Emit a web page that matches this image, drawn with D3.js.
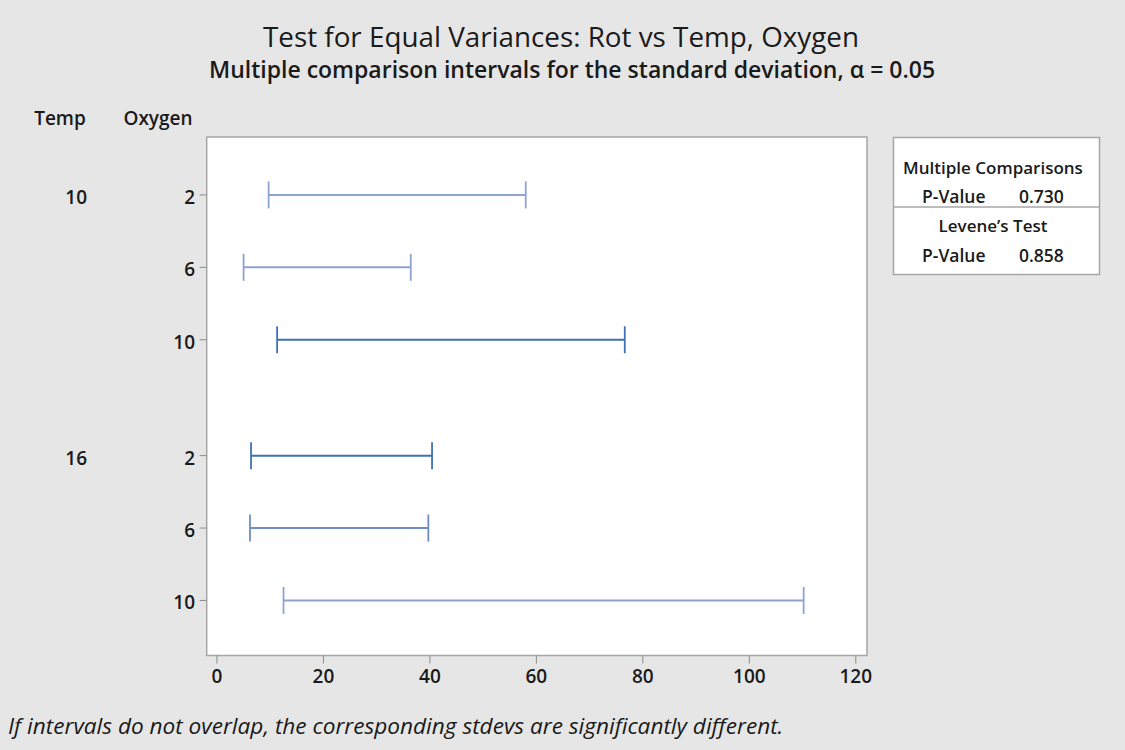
<!DOCTYPE html>
<html>
<head>
<meta charset="utf-8">
<script src="https://cdn.jsdelivr.net/npm/d3@7"></script>
<style>
  body { margin: 0; background: #e6e6e6; }
  svg { display: block; font-family: "Open Sans", "Noto Sans", sans-serif; }
</style>
</head>
<body>
<div id="chart"></div>
<script>
// Data
var temps = ['10', '10', '10', '16', '16', '16'];
var oxygens = ['2', '6', '10', '2', '6', '10'];
var lower = [9.8, 5.1, 11.4, 6.5, 6.3, 12.6];
var upper = [58.1, 36.5, 76.7, 40.5, 39.8, 110.3];
var positions = [0, 1, 2, 3.6, 4.6, 5.6];
var shade = ['light', 'light', 'dark', 'dark', 'mid', 'light'];
var x_ticks = [0, 20, 40, 60, 80, 100, 120];
var legend_rows = [
    ['Multiple Comparisons', 'P-Value', '0.730'],
    ['Levene\u2019s Test', 'P-Value', '0.858']
];

var chart_width = 1125;
var chart_height = 750;
var plot = { left: 206.7, right: 867, top: 137, bottom: 655.5 };

var svg = d3.select('#chart')
    .append('svg')
    .attr('width', chart_width)
    .attr('height', chart_height);

svg.append('rect')
    .attr('width', chart_width)
    .attr('height', chart_height)
    .attr('fill', '#e6e6e6');

// Scales
var x_scale = d3.scaleLinear()
    .domain([-1.83, 122.2])
    .range([plot.left, plot.right]);

var y_scale = d3.scaleLinear()
    .domain([-0.8, 6.36])
    .range([plot.top, plot.bottom]);

var colors = { light: '#8fa2d2', mid: '#6f8cc8', dark: '#3f71b9' };
var ink = '#1a1a1a';

// Titles
svg.append('text')
    .attr('x', 561)
    .attr('y', 47)
    .attr('text-anchor', 'middle')
    .attr('font-size', 27.8)
    .attr('font-weight', 500)
    .attr('fill', ink)
    .text('Test for Equal Variances: Rot vs Temp, Oxygen');

svg.append('text')
    .attr('x', 572)
    .attr('y', 78)
    .attr('text-anchor', 'middle')
    .attr('font-size', 23)
    .attr('font-weight', 600)
    .attr('fill', ink)
    .text('Multiple comparison intervals for the standard deviation, \u03b1 = 0.05');

// Plot frame
svg.append('rect')
    .attr('x', plot.left)
    .attr('y', plot.top)
    .attr('width', plot.right - plot.left)
    .attr('height', plot.bottom - plot.top)
    .attr('fill', '#ffffff')
    .attr('stroke', '#a6a6a6')
    .attr('stroke-width', 1.5);

// X axis
var x_axis = d3.axisBottom(x_scale)
    .tickValues(x_ticks)
    .tickSize(8)
    .tickPadding(6);

var gx = svg.append('g')
    .attr('transform', 'translate(0,' + plot.bottom + ')')
    .call(x_axis);
gx.select('.domain').remove();
gx.selectAll('line').attr('stroke', '#8c8c8c');
gx.selectAll('text')
    .attr('font-size', 19)
    .attr('font-weight', 600)
    .attr('font-family', '"Open Sans", sans-serif')
    .attr('fill', ink);

// Y ticks and row labels
svg.selectAll('.ytick')
    .data(positions)
    .enter()
    .append('line')
    .attr('x1', plot.left - 7)
    .attr('x2', plot.left)
    .attr('y1', function(d) { return y_scale(d); })
    .attr('y2', function(d) { return y_scale(d); })
    .attr('stroke', '#8c8c8c');

svg.selectAll('.oxy')
    .data(oxygens)
    .enter()
    .append('text')
    .attr('x', 195)
    .attr('y', function(d, i) { return y_scale(positions[i]) + 9; })
    .attr('text-anchor', 'end')
    .attr('font-size', 19)
    .attr('font-weight', 600)
    .attr('fill', ink)
    .text(function(d) { return d; });

svg.selectAll('.temp')
    .data(temps)
    .enter()
    .filter(function(d, i) { return i === 0 || temps[i - 1] !== d; })
    .append('text')
    .attr('x', 87)
    .attr('y', function(d) { return y_scale(positions[temps.indexOf(d)]) + 9; })
    .attr('text-anchor', 'end')
    .attr('font-size', 19)
    .attr('font-weight', 600)
    .attr('fill', ink)
    .text(function(d) { return d; });

svg.append('text')
    .attr('x', 60).attr('y', 125)
    .attr('text-anchor', 'middle')
    .attr('font-size', 19)
    .attr('font-weight', 600)
    .attr('fill', ink)
    .text('Temp');

svg.append('text')
    .attr('x', 158).attr('y', 125)
    .attr('text-anchor', 'middle')
    .attr('font-size', 19)
    .attr('font-weight', 600)
    .attr('fill', ink)
    .text('Oxygen');

// Intervals
var bars = svg.selectAll('.interval')
    .data(lower)
    .enter()
    .append('g');

bars.append('line')
    .attr('x1', function(d) { return x_scale(d); })
    .attr('x2', function(d, i) { return x_scale(upper[i]); })
    .attr('y1', function(d, i) { return y_scale(positions[i]); })
    .attr('y2', function(d, i) { return y_scale(positions[i]); })
    .attr('stroke', function(d, i) { return colors[shade[i]]; })
    .attr('stroke-width', 2);

bars.append('line')
    .attr('x1', function(d) { return x_scale(d); })
    .attr('x2', function(d) { return x_scale(d); })
    .attr('y1', function(d, i) { return y_scale(positions[i]) - 13.5; })
    .attr('y2', function(d, i) { return y_scale(positions[i]) + 13.5; })
    .attr('stroke', function(d, i) { return colors[shade[i]]; })
    .attr('stroke-width', 1.8);

bars.append('line')
    .attr('x1', function(d, i) { return x_scale(upper[i]); })
    .attr('x2', function(d, i) { return x_scale(upper[i]); })
    .attr('y1', function(d, i) { return y_scale(positions[i]) - 13.5; })
    .attr('y2', function(d, i) { return y_scale(positions[i]) + 13.5; })
    .attr('stroke', function(d, i) { return colors[shade[i]]; })
    .attr('stroke-width', 1.8);

// Legend box
var lg = svg.append('g');
lg.append('rect')
    .attr('x', 893.5).attr('y', 137.5)
    .attr('width', 206).attr('height', 137)
    .attr('fill', '#ffffff')
    .attr('stroke', '#a6a6a6')
    .attr('stroke-width', 1.5);
lg.append('line')
    .attr('x1', 893.5).attr('x2', 1099.5)
    .attr('y1', 207).attr('y2', 207)
    .attr('stroke', '#a6a6a6')
    .attr('stroke-width', 1.5);

legend_rows.forEach(function(r, i) {
    var top = 137.5 + i * 58.5;
    lg.append('text')
        .attr('x', 993).attr('y', top + 36)
        .attr('text-anchor', 'middle')
        .attr('font-size', 17)
        .attr('font-weight', 600)
        .attr('fill', ink)
        .text(r[0]);
    lg.append('text')
        .attr('x', 922).attr('y', top + 65.5)
        .attr('font-size', 17.5)
        .attr('font-weight', 600)
        .attr('fill', ink)
        .text(r[1]);
    lg.append('text')
        .attr('x', 1019).attr('y', top + 65.5)
        .attr('font-size', 17.5)
        .attr('font-weight', 600)
        .attr('fill', ink)
        .text(r[2]);
});

// Footnote
svg.append('text')
    .attr('x', 8).attr('y', 734)
    .attr('font-size', 22.6)
    .attr('font-style', 'italic')
    .attr('fill', ink)
    .text('If intervals do not overlap, the corresponding stdevs are significantly different.');
</script>
</body>
</html>
